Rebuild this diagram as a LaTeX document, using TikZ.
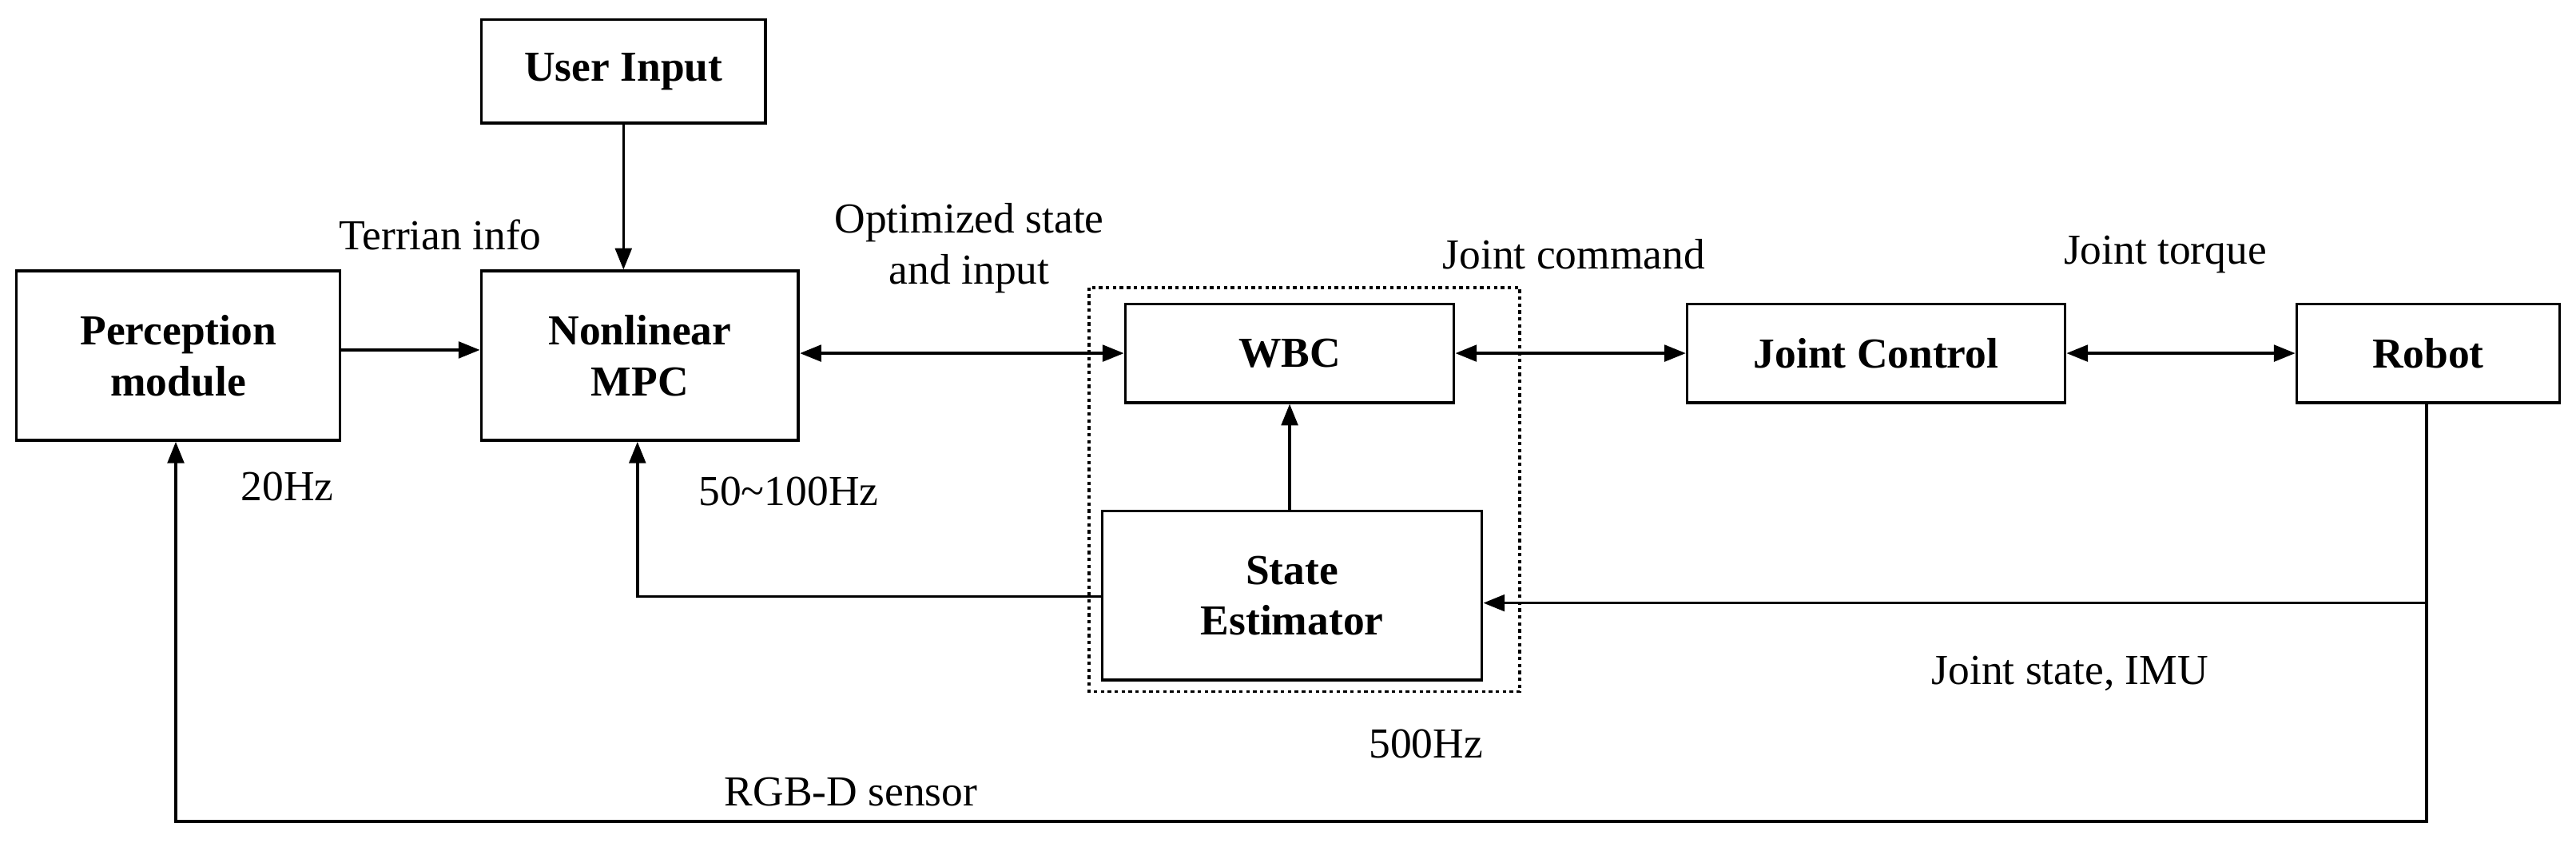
\documentclass[tikz,border=0pt]{standalone}
\usepackage{fontspec}
\setmainfont{Liberation Serif}
\usetikzlibrary{arrows.meta}
\begin{document}
\begin{tikzpicture}[x=0.05cm,y=-0.05cm,
  every node/.style={font=\fontsize{37}{44}\selectfont},
  box/.style={draw,line width=2.5pt,font=\fontsize{37}{44}\selectfont\bfseries,align=center,inner sep=0pt},
  ln/.style={line width=2.5pt},
  ar/.style={ln,-{Triangle[length=0.65cm,width=0.5cm]}},
  dar/.style={ln,{Triangle[length=0.65cm,width=0.5cm]}-{Triangle[length=0.65cm,width=0.5cm]}}]
\useasboundingbox (0,0) rectangle (1568,515.5);
\node[box,minimum width=173*0.05cm,minimum height=63*0.05cm] (user) at (379.5,43.5) {User Input};
\node[box,minimum width=197*0.05cm,minimum height=103*0.05cm] (perc) at (108.5,216.5) {Perception\\module};
\node[box,minimum width=193*0.05cm,minimum height=103*0.05cm] (mpc) at (389.5,216.5) {Nonlinear\\MPC};
\draw[ln,dashed] (663,175) rectangle (925,421);
\node[box,minimum width=200*0.05cm,minimum height=60*0.05cm] (wbc) at (785,215) {WBC};
\node[box,minimum width=231*0.05cm,minimum height=103*0.05cm] (se) at (786.5,362.5) {State\\Estimator};
\node[box,minimum width=230*0.05cm,minimum height=60*0.05cm] (jc) at (1142,215) {Joint Control};
\node[box,minimum width=160*0.05cm,minimum height=60*0.05cm] (rob) at (1478,215) {Robot};
\draw[ar] (perc.east |- 0,213) -- (mpc.west |- 0,213);
\draw[ar] (user) -- (user |- mpc.north);
\draw[dar] (mpc.east |- wbc) -- (wbc.west);
\draw[dar] (wbc) -- (jc);
\draw[dar] (jc) -- (rob);
\draw[ar] (se.north -| wbc) -- (wbc.south);
\coordinate (c1) at (388,363);
\draw[ar] (se.west |- c1) -- (c1) -- (c1 |- mpc.south);
\coordinate (c2) at (1477,367);
\coordinate (c3) at (1477,500);
\coordinate (c4) at (107,500);
\draw[ar] (rob.south -| c2) -- (c2) -- (se.east |- c2);
\draw[ar] (c2) -- (c3) -- (c4) -- (c4 |- perc.south);
\node at (268,143) {Terrian info};
\node[align=center] at (590,151) {Optimized state\\and input};
\node at (958,155) {Joint command};
\node at (1318,155) {Joint torque};
\node at (175,296) {20Hz};
\node at (480,299) {50\textasciitilde100Hz};
\node at (868,453) {500Hz};
\node at (1260,410) {Joint state, IMU};
\node at (518,482) {RGB-D sensor};
\end{tikzpicture}
\end{document}
